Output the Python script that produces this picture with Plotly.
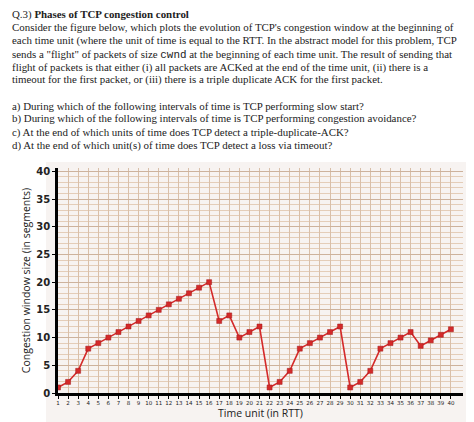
import plotly.graph_objects as go

time_units = list(range(1, 41))
cwnd = [1, 2, 4, 8, 9, 10, 11, 12, 13, 14, 15, 16, 17, 18, 19, 20,
        13, 14, 10, 11, 12,
        1, 2, 4, 8, 9, 10, 11, 12,
        1, 2, 4, 8, 9, 10, 11, 8.5, 9.5, 10.5, 11.5]
y_ticks = [0, 5, 10, 15, 20, 25, 30, 35, 40]

text_lines = [
    "Q.3) <b>Phases of TCP congestion control</b>",
    "Consider the figure below, which plots the evolution of TCP's congestion window at the beginning of",
    "each time unit (where the unit of time is equal to the RTT. In the abstract model for this problem, TCP",
    "sends a \"flight\" of packets of size <span style='font-family:Liberation Mono'>cwnd</span> at the beginning of each time unit. The result of sending that",
    "flight of packets is that either (i) all packets are ACKed at the end of the time unit, (ii) there is a",
    "timeout for the first packet, or (iii) there is a triple duplicate ACK for the first packet.",
    "a) During which of the following intervals of time is TCP performing slow start?",
    "b) During which of the following intervals of time is TCP performing congestion avoidance?",
    "c) At the end of which units of time does TCP detect a triple-duplicate-ACK?",
    "d) At the end of which unit(s) of time does TCP detect a loss via timeout?",
]
line_y = [6, 19, 33, 46, 59, 72, 98, 111, 124, 137]

W, H = 474, 422
L, R, T, B = 50, 19, 160, 37
pw, ph = W - L - R, H - T - B

x_pos = [t - 1 for t in time_units]

fig = go.Figure()
fig.add_trace(go.Scatter(
    x=x_pos, y=cwnd, mode="lines+markers",
    line=dict(color="#d42a2a", width=1.6),
    marker=dict(symbol="square", size=5, color="#d42a2a",
                line=dict(color="#a01818", width=0.5)),
    showlegend=False, cliponaxis=False))

# chart panel background
fig.add_shape(type="rect", xref="paper", yref="paper",
              x0=-12 / pw, x1=(pw + 14) / pw, y0=-(B - 2) / ph, y1=(ph + 6) / ph,
              fillcolor="#f7f3f1", line=dict(width=0), layer="below")

for line, py in zip(text_lines, line_y):
    fig.add_annotation(
        text=line, xref="paper", yref="paper",
        x=(2 - L) / pw, y=(H - B - py) / ph,
        xanchor="left", yanchor="middle", showarrow=False,
        font=dict(family="Liberation Serif", size=10.9, color="#222"))

fig.update_layout(
    width=W, height=H,
    margin=dict(l=L, r=R, t=T, b=B),
    paper_bgcolor="white", plot_bgcolor="#f3dcc7",
    xaxis=dict(range=[0, 40.2], tickvals=x_pos, ticktext=[str(t) for t in time_units],
               tickfont=dict(family="DejaVu Sans", size=5.5, color="#222"),
               ticks="outside", ticklen=3, tickcolor="black",
               showgrid=True, gridcolor="#d9bfa8", gridwidth=1,
               showline=True, linecolor="black", linewidth=2.5,
               zeroline=False,
               title=dict(text="Time unit (in RTT)", standoff=4,
                          font=dict(family="Open Sans", size=10.5, color="#222"))),
    yaxis=dict(range=[0, 40.6], tickvals=y_ticks,
               tickfont=dict(family="DejaVu Sans", size=10, color="#222", weight="bold"),
               ticks="outside", ticklen=3, tickcolor="black",
               showgrid=True, gridcolor="#cdb29c", gridwidth=1,
               minor=dict(dtick=1, showgrid=True, gridcolor="#e4cdb8", gridwidth=0.5),
               showline=True, linecolor="black", linewidth=2.5,
               zeroline=False,
               title=dict(text="Congestion window size (in segments)", standoff=4,
                          font=dict(family="Open Sans", size=10.5, color="#222"))),
)

fig.write_html("out.html")
